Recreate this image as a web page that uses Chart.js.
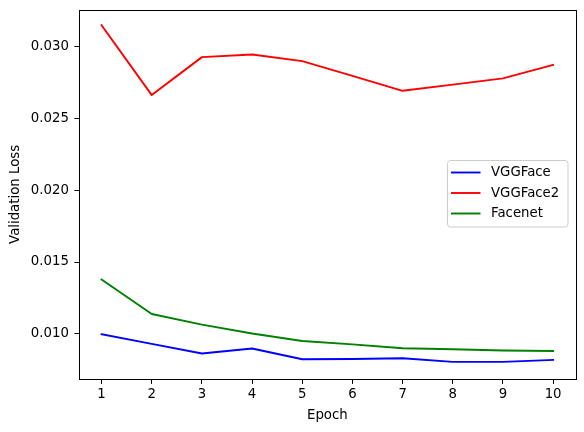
<!DOCTYPE html>
<html>
<head>
<meta charset="utf-8">
<script src="https://cdn.jsdelivr.net/npm/chart.js@4/dist/chart.umd.min.js"></script>
<style>
  html, body { margin: 0; padding: 0; background: #fff; }
  #wrap { width: 584px; height: 432px; }
</style>
</head>
<body>
<div id="wrap"><canvas id="c" width="584" height="432"></canvas></div>
<script>
const epochs = [1, 2, 3, 4, 5, 6, 7, 8, 9, 10];
const vggface = [0.00998, 0.00931, 0.00864, 0.00899, 0.00824, 0.00826, 0.00831, 0.00806, 0.00806, 0.00820];
const vggface2 = [0.03146, 0.02660, 0.02924, 0.02942, 0.02896, 0.02794, 0.02690, 0.02733, 0.02776, 0.02870];
const facenet = [0.01378, 0.01139, 0.01065, 0.01003, 0.00951, 0.00928, 0.00901, 0.00894, 0.00885, 0.00882];
const yTickValues = [0.010, 0.015, 0.020, 0.025, 0.030];
const seriesNames = ['VGGFace', 'VGGFace2', 'Facenet'];
const seriesColors = ['#0000ff', '#ff0000', '#008000'];

const FONT = 'DejaVu Sans';
const FS = 13.3;
const TXT = '#000000';

function pts(vals) { return epochs.map((e, i) => ({ x: e, y: vals[i] })); }

const legendPlugin = {
  id: 'innerLegend',
  afterDraw(chart) {
    const ctx = chart.ctx;
    const ds = chart.data.datasets;
    const left = 447.5, top = 160.5, w = 120.5, h = 66.5, r = 3;
    ctx.save();
    ctx.beginPath();
    ctx.moveTo(left + r, top);
    ctx.lineTo(left + w - r, top);
    ctx.arcTo(left + w, top, left + w, top + r, r);
    ctx.lineTo(left + w, top + h - r);
    ctx.arcTo(left + w, top + h, left + w - r, top + h, r);
    ctx.lineTo(left + r, top + h);
    ctx.arcTo(left, top + h, left, top + h - r, r);
    ctx.lineTo(left, top + r);
    ctx.arcTo(left, top, left + r, top, r);
    ctx.closePath();
    ctx.fillStyle = 'rgba(255,255,255,0.8)';
    ctx.fill();
    ctx.strokeStyle = '#cccccc';
    ctx.lineWidth = 1;
    ctx.stroke();
    ctx.font = FS + 'px "' + FONT + '"';
    ctx.textBaseline = 'middle';
    ctx.textAlign = 'left';
    ds.forEach((d, i) => {
      const y = 172.5 + i * 20.5;
      ctx.beginPath();
      ctx.moveTo(451, y);
      ctx.lineTo(480.5, y);
      ctx.strokeStyle = d.borderColor;
      ctx.lineWidth = 1.9;
      ctx.stroke();
      ctx.fillStyle = TXT;
      ctx.fillText(d.label, 491, y + 0.5);
    });
    ctx.restore();
  }
};

const framePlugin = {
  id: 'frame',
  afterDraw(chart) {
    const a = chart.chartArea;
    const ctx = chart.ctx;
    ctx.save();
    ctx.strokeStyle = '#000';
    ctx.lineWidth = 1;
    ctx.strokeRect(Math.round(a.left) + 0.5, Math.round(a.top) + 0.5,
      Math.round(a.right) - Math.round(a.left), Math.round(a.bottom) - Math.round(a.top));
    ctx.restore();
  }
};

new Chart(document.getElementById('c'), {
  type: 'line',
  data: {
    datasets: [
      { label: seriesNames[0], data: pts(vggface), borderColor: seriesColors[0], backgroundColor: seriesColors[0] },
      { label: seriesNames[1], data: pts(vggface2), borderColor: seriesColors[1], backgroundColor: seriesColors[1] },
      { label: seriesNames[2], data: pts(facenet), borderColor: seriesColors[2], backgroundColor: seriesColors[2] }
    ]
  },
  options: {
    responsive: false,
    animation: false,
    devicePixelRatio: 1,
    layout: { padding: { left: 0, top: 9.5, right: 8.3, bottom: 0 } },
    elements: {
      line: { borderWidth: 1.9, tension: 0, borderCapStyle: 'square', borderJoinStyle: 'round' },
      point: { radius: 0, hoverRadius: 0 }
    },
    plugins: {
      legend: { display: false },
      tooltip: { enabled: false }
    },
    scales: {
      x: {
        type: 'linear',
        min: 0.55,
        max: 10.45,
        afterBuildTicks: s => { s.ticks = epochs.map(v => ({ value: v })); },
        afterFit: s => { s.height = 52.7; s.paddingLeft = 0; s.paddingRight = 0; },
        ticks: {
          color: TXT,
          font: { family: FONT, size: FS },
          padding: 3,
          maxRotation: 0,
          autoSkip: false,
          callback: v => String(v)
        },
        grid: { display: true, drawOnChartArea: false, drawTicks: true, tickLength: 4.6, color: '#000', lineWidth: 1 },
        border: { display: false },
        title: { display: true, text: 'Epoch', color: TXT, font: { family: FONT, size: FS }, padding: { top: 0, bottom: 8 } }
      },
      y: {
        type: 'linear',
        min: 0.00685,
        max: 0.03255,
        afterBuildTicks: s => { s.ticks = yTickValues.map(v => ({ value: v })); },
        afterFit: s => { s.width = 79; s.paddingTop = 0; s.paddingBottom = 0; },
        ticks: {
          color: TXT,
          font: { family: FONT, size: FS },
          padding: 5.5,
          autoSkip: false,
          callback: v => Number(v).toFixed(3)
        },
        grid: { display: true, drawOnChartArea: false, drawTicks: true, tickLength: 4.6, color: '#000', lineWidth: 1 },
        border: { display: false },
        title: { display: true, text: 'Validation Loss', color: TXT, font: { family: FONT, size: FS }, padding: { top: 8, bottom: 0 } }
      }
    }
  },
  plugins: [framePlugin, legendPlugin]
});
</script>
</body>
</html>
